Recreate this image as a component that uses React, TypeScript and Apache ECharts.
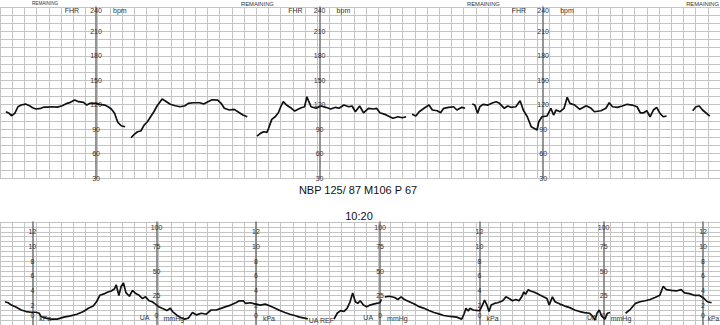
import React, { useEffect, useRef } from "react";
import * as echarts from "echarts";

// ---- tick labels ----
const FHR_TICKS = [30, 60, 90, 120, 150, 180, 210, 240];
const KPA_TICKS = [0, 2, 4, 6, 8, 10, 12];
const MMHG_TICKS = [0, 25, 50, 75, 100];

// ---- fetal heart rate (time in s, bpm; null = signal loss) ----
const fhrTime = [
  4.8, 7.5, 9.4, 12.1, 14.7, 17.4, 20.9, 24.2, 26.8, 29.5, 33.5, 36.2, 38.9, 42.9, 47.0, 51.0, 55.0, 57.7, 61.2, 64.4, 68.5, 71.1, 73.8, 77.8, 81.8, 85.8, 88.6, 91.2, 93.9, 95.3, 96.6, 99.3, 102.5,
  105,
  107.3, 110.0, 112.7, 115.4, 118.1, 120.8, 123.4, 126.1, 128.8, 132.9, 135.5, 139.5, 143.6, 147.6, 151.6, 154.3, 158.3, 163.7, 166.9, 170.4, 173.9, 178.4, 181.2, 183.8, 187.9, 191.9, 195.9, 199.1, 202.6,
  206,
  210.6, 213.4, 216.0, 218.7, 220.1, 222.7, 225.5, 228.1, 230.3, 232.1, 234.8, 238.8, 241.6, 244.2, 246.9, 249.6, 251.5, 253.1, 254.9, 259.0, 263.0, 267.0, 271.0, 275.1, 277.8, 281.8, 285.8, 288.5, 291.2, 294.7, 297.9, 301.9, 306.0, 308.6, 311.3, 315.3, 319.3, 322.1, 326.1, 329.6, 332.8,
  335,
  337.6, 340.8, 343.5, 347.5, 351.5, 354.3, 358.3, 361.0, 363.6, 367.7, 371.7, 374.4, 378.4, 381.1,
  384,
  387.0, 389.1, 391.3, 393.2, 395.8, 399.9, 403.9, 406.6, 409.3, 413.3, 416.0, 418.7, 422.7, 426.2, 428.8, 432.1, 435.3, 440.1, 441.5, 444.1, 448.2, 451.4, 453.6, 455.7, 458.9, 462.2, 464.8, 467.0, 471.0, 475.1, 480.4, 484.4, 487.1, 492.4, 496.5, 499.2, 501.9, 505.9, 509.9, 513.9, 518.0, 522.0, 524.7, 527.4, 530.0, 532.7, 535.4, 538.1, 540.8, 543.5, 546.2,
  555,
  567.6, 570.3, 573.0, 575.7, 578.4, 581.6,
];
const fhrBpm = [
  111.4, 109.4, 106.5, 109.4, 117.5, 119.6, 120.8, 118.7, 116.3, 114.7, 115.6, 117.1, 117.1, 117.5, 117.1, 118.7, 121.7, 122.9, 125.7, 123.7, 122.9, 119.6, 121.7, 121.7, 120.5, 119.6, 117.5, 114.7, 109.4, 103.3, 98.4, 94.2, 92.9,
  null,
  79.4, 83.6, 86.8, 87.7, 95, 99.1, 105.2, 111.4, 118.7, 127, 124.5, 120.5, 118.7, 117.5, 118.7, 121.7, 122.4, 122.4, 120.8, 123.7, 126.1, 125.7, 121.7, 115.6, 113.5, 114.3, 110.5, 107.3, 105.2,
  null,
  81.5, 84.8, 86.8, 86.1, 91, 102, 105.2, 110.1, 118.4, 123.7, 119.6, 115.6, 112.2, 114.3, 116.3, 117.5, 129.8, 123.7, 117.5, 115.6, 118.4, 116.8, 114.7, 116.8, 115.6, 119.6, 117.5, 118.4, 111.4, 118.4, 110.1, 115.6, 114.7, 115.6, 110.1, 108.2, 105.2, 103.3, 105.2, 104, 105.2,
  null,
  108.2, 106.1, 111.4, 115.6, 119.6, 113.5, 112.6, 110.1, 115.6, 116.8, 117.5, 113.5, 116.8, 115.6,
  null,
  120.8, 119.6, 109.4, 117.5, 120.5, 119.6, 122.4, 123.7, 121.7, 115.6, 118.4, 116.8, 117.5, 124.9, 113.5, 105.2, 92.9, 88.9, 99.1, 105.2, 106.1, 115.6, 107.3, 113.5, 111.4, 115.6, 129.1, 121.7, 119.6, 114.3, 118.7, 115.6, 111.4, 112.6, 115.6, 122.4, 117.5, 116.8, 118.4, 120.5, 119.6, 117.5, 110.1, 110.1, 112.6, 105.2, 113.5, 116.8, 109.4, 105.2, 106.1,
  null,
  112.6, 117.5, 118.4, 113.5, 110.1, 106.1,
];

// ---- uterine activity (time in s, mmHg; null = gap) ----
const uaTime = [
  4.0, 6.6, 9.4, 13.4, 17.4, 21.4, 25.5, 29.5, 32.1, 33.5, 37.5, 41.6, 46.9, 52.3, 57.7, 63.0, 68.4, 72.4, 76.4, 79.1, 81.8, 85.8, 88.5, 91.2, 93.9, 95.2, 97.4, 99.2, 101.1, 103.2, 106.0, 108.6, 111.3, 114.0, 116.7, 119.3, 122.1, 124.7, 127.4, 130.1, 132.8, 136.8, 139.5, 141.4, 144.9, 148.9, 151.3, 154.3, 157.7, 161.0, 165.0, 169.0, 173.0, 177.1, 181.1, 185.1, 189.1, 193.2, 195.8, 199.4, 201.2, 205.3, 209.3, 213.3, 217.3, 221.4, 225.4, 229.4, 233.4, 237.5, 241.5, 245.5, 249.5, 252.2,
  262,
  273.7, 276.3, 279.1, 281.7, 284.4, 286.6, 289.0, 291.2, 293.2, 295.2, 297.8, 300.5, 303.2, 305.9, 308.5, 311.3, 312.6,
  314,
  315.3, 319.3, 323.4, 326.0, 328.7, 331.4, 335.4, 339.5, 343.5, 347.5, 351.5, 355.6, 359.6, 363.6, 368.9, 374.3, 378.3, 380.5, 381.8, 383.7, 385.0, 387.8, 390.4, 393.1, 395.3, 397.1, 399.0, 400.7, 402.5, 405.2, 407.9, 411.9, 414.6, 417.2, 420.0, 422.6, 425.3, 427.5, 429.3, 430.7, 432.9, 434.7, 437.4, 440.1, 442.8, 445.4, 448.2, 450.0, 452.7, 454.8, 458.9, 462.9, 466.9, 470.9, 475.0, 479.0, 483.0, 485.7, 487.6, 489.2, 491.1, 492.9, 495.7, 497.7, 499.9,
  506,
  512.6, 516.6, 520.6, 524.6, 528.7, 532.7, 536.7, 540.7, 543.4, 546.1, 550.1, 554.1, 558.2, 560.9, 564.9, 568.9, 573.0, 577.0, 579.6, 583.1,
];
const uaMmHg = [
  18.7, 17.7, 15.3, 13, 10.3, 8.7, 8, 8, 7, 3.7, 2, 1, 1, 3, 4.3, 6, 8.7, 12, 14.3, 18.7, 25.3, 27, 28.7, 29.7, 32, 36, 25, 34, 38, 28, 24.3, 30.3, 27, 25.3, 22, 23.7, 19.7, 18.7, 16.3, 13.7, 12, 9.7, 12, 8.7, 5, 2, 1, 2, 7.7, 5.3, 7, 6, 10.3, 10.3, 12, 13.7, 15.3, 17.7, 19.5, 19.7, 17, 17.7, 16.3, 15.3, 16.3, 14.3, 12, 9.7, 7.7, 6, 4.7, 3, 2, 1.3,
  null,
  1, 7, 9.7, 8.7, 12, 17.7, 27.7, 18.7, 17, 19.7, 15.3, 13.7, 15.3, 16.3, 17, 17.7, 21,
  null,
  23.7, 24.3, 23, 21, 23.7, 21, 18.7, 16.3, 13.7, 12, 9.7, 7.7, 6.3, 4.7, 3.7, 3, 1, 7, 12, 9.3, 12, 10.3, 10, 9.7, 15.3, 20.3, 15.3, 8.7, 15.3, 17, 17.7, 19.7, 23.7, 22, 19.7, 21, 19.7, 23.7, 28.7, 26.3, 31, 29.7, 28.7, 27, 25.3, 23.7, 22, 15.3, 23.7, 18.7, 16.3, 14.3, 12.7, 10.3, 8.7, 7.7, 7, 3.7, 0, 7, 10.3, 4.3, 1, 7, 7.7,
  null,
  7, 11, 17, 18.7, 19.7, 21, 23, 25.3, 34.3, 31, 30.3, 29.7, 31, 27.7, 27, 25.3, 25.3, 22, 18.7, 17.7,
];

const NBP_TEXT = "NBP 125/ 87 M106 P 67";
const TIME_TEXT = "10:20";

// ---- layout constants ----
const COL = 12.42; // px per 10 s column
const TOP_LEFT = -3.32;
const BOT_LEFT = -4.92;
const TOP_Y = 7;
const TOP_H = 171;
const BOT_Y = 222;
const BOT_H = 105;
const TOP_AXIS_COLS = [8, 26, 44];
const KPA_AXIS_COLS = [3, 21, 39, 57];
const MMHG_AXIS_COLS = [13, 31, 49];
const FONT = "'Liberation Sans', Arial, Helvetica, sans-serif";
const GRID_COLOR = "#c4c4c4";
const AXIS_COLOR = "#7a7a7a";
const TEXT_COLOR = "#333";

export default function App() {
  const ref = useRef<HTMLDivElement>(null);

  useEffect(() => {
    document.body.style.margin = "0";
    if (!ref.current) return;
    const chart = echarts.init(ref.current, undefined, { renderer: "svg" });

    const grids: any[] = [];
    const xAxes: any[] = [];
    const yAxes: any[] = [];

    const hiddenX = (gi: number, split: boolean) => ({
      gridIndex: gi,
      type: "value",
      min: 0,
      max: 590,
      interval: 10,
      axisLine: { show: false },
      axisTick: { show: false },
      axisLabel: { show: false },
      splitLine: { show: split, lineStyle: { color: GRID_COLOR, width: 1 } },
    });

    // main top grid
    grids.push({ left: TOP_LEFT, top: TOP_Y, width: 59 * COL, height: TOP_H });
    xAxes.push(hiddenX(0, true));
    yAxes.push({
      gridIndex: 0, type: "value", min: 30, max: 240, interval: 10,
      axisLine: { show: false }, axisTick: { show: false }, axisLabel: { show: false },
      splitLine: { show: true, lineStyle: { color: GRID_COLOR, width: 1 } },
    });
    // main bottom grid
    grids.push({ left: BOT_LEFT, top: BOT_Y, width: 59 * COL, height: BOT_H });
    xAxes.push(hiddenX(1, true));
    yAxes.push({
      gridIndex: 1, type: "value", min: -5, max: 100, interval: 5,
      axisLine: { show: false }, axisTick: { show: false }, axisLabel: { show: false },
      splitLine: { show: true, lineStyle: { color: GRID_COLOR, width: 1 } },
    });

    const addLabelAxis = (
      x: number, top: number, height: number, min: number, max: number,
      ticks: number[], fmt: (v: number) => string, rich: any
    ) => {
      const gi = grids.length;
      grids.push({ left: x, top, width: 1, height });
      xAxes.push(hiddenX(gi, false));
      yAxes.push({
        gridIndex: gi, type: "value", min, max, position: "left",
        axisLine: { show: true, lineStyle: { color: AXIS_COLOR, width: 1.6 } },
        axisTick: { show: false },
        splitLine: { show: false },
        axisLabel: {
          show: true, customValues: ticks, showMinLabel: true, showMaxLabel: true,
          margin: 0, align: "center", fontSize: 7, fontFamily: FONT, color: TEXT_COLOR,
          formatter: fmt, rich,
        },
      });
    };

    const richBase = { fontSize: 7, fontFamily: FONT, color: TEXT_COLOR };
    TOP_AXIS_COLS.forEach((c) => {
      addLabelAxis(TOP_LEFT + c * COL, TOP_Y, TOP_H, 30, 240, FHR_TICKS,
        (v: number) => (v === 240 ? `{t|${v}}` : `${v}`),
        { t: { ...richBase, padding: [7, 0, 0, 0] } });
    });
    KPA_AXIS_COLS.forEach((c) => {
      addLabelAxis(BOT_LEFT + c * COL, BOT_Y, BOT_H, -5 / 7.5, 100 / 7.5, KPA_TICKS,
        (v: number) => (Math.abs(v) < 1e-6 ? `{b|0}` : `${Math.round(v)}`),
        { b: { ...richBase, padding: [0, 0, 9, 0] } });
    });
    MMHG_AXIS_COLS.forEach((c) => {
      addLabelAxis(BOT_LEFT + c * COL, BOT_Y, BOT_H, -5, 100, MMHG_TICKS,
        (v: number) => (v === 100 ? `{t|100}` : v === 0 ? `{b|0}` : `${v}`),
        { t: { ...richBase, padding: [11, 0, 0, 0] }, b: { ...richBase, padding: [0, 0, 9, 0] } });
    });

    const fhrData = fhrTime.map((t, i) => [t, fhrBpm[i] == null ? "-" : fhrBpm[i]]);
    const uaData = uaTime.map((t, i) => [t, uaMmHg[i] == null ? "-" : uaMmHg[i]]);

    const txt = (text: string, x: number, y: number, size: number, align: string, extra: any = {}) => ({
      type: "text", x, y, z: 100,
      style: { text, fontSize: size, fontFamily: FONT, fill: TEXT_COLOR, align, verticalAlign: "middle", ...extra },
    });

    const graphics: any[] = [];
    graphics.push(txt("REMAINING", 32, 3.5, 4.6, "left"));
    graphics.push(txt("REMAINING", 241, 3.5, 5.8, "left"));
    graphics.push(txt("REMAINING", 467, 3.5, 5.8, "left"));
    graphics.push(txt("REMAINING", 719, 3.5, 5.8, "right"));
    TOP_AXIS_COLS.forEach((c) => {
      const ax = TOP_LEFT + c * COL;
      graphics.push(txt("FHR", ax - 17, 10.5, 7, "right"));
      graphics.push(txt("bpm", ax + 17, 10.5, 7, "left"));
    });
    KPA_AXIS_COLS.forEach((c, i) => {
      const ax = BOT_LEFT + c * COL;
      if (i === KPA_AXIS_COLS.length - 1) {
        graphics.push(txt("kPa", 719, 318, 6.5, "right"));
      } else {
        graphics.push(txt("kPa", ax + 7, 318, 7, "left"));
      }
    });
    MMHG_AXIS_COLS.forEach((c) => {
      const ax = BOT_LEFT + c * COL;
      graphics.push(txt("UA", ax - 7, 317.5, 7, "right"));
      graphics.push(txt("mmHg", ax + 7, 318, 7, "left"));
    });
    graphics.push(txt("UA REF", 334, 320, 7, "right"));
    graphics.push(txt(NBP_TEXT, 358, 190, 11, "center", { fill: "#111" }));
    graphics.push(txt(TIME_TEXT, 359, 216, 11, "center", { fill: "#111" }));

    chart.setOption({
      animation: false,
      backgroundColor: "#ffffff",
      grid: grids,
      xAxis: xAxes,
      yAxis: yAxes,
      graphic: graphics,
      series: [
        {
          type: "line", xAxisIndex: 0, yAxisIndex: 0, data: fhrData,
          showSymbol: false, connectNulls: false, clip: false,
          lineStyle: { color: "#111", width: 1.7 }, z: 5,
        },
        {
          type: "line", xAxisIndex: 1, yAxisIndex: 1, data: uaData,
          showSymbol: false, connectNulls: false,
          lineStyle: { color: "#111", width: 1.7 }, z: 5,
        },
      ],
    });

    return () => chart.dispose();
  }, []);

  return (
    <div
      ref={ref}
      style={{ position: "fixed", left: 0, top: 0, width: 720, height: 325, background: "#fff", opacity: 0.999 }}
    />
  );
}
